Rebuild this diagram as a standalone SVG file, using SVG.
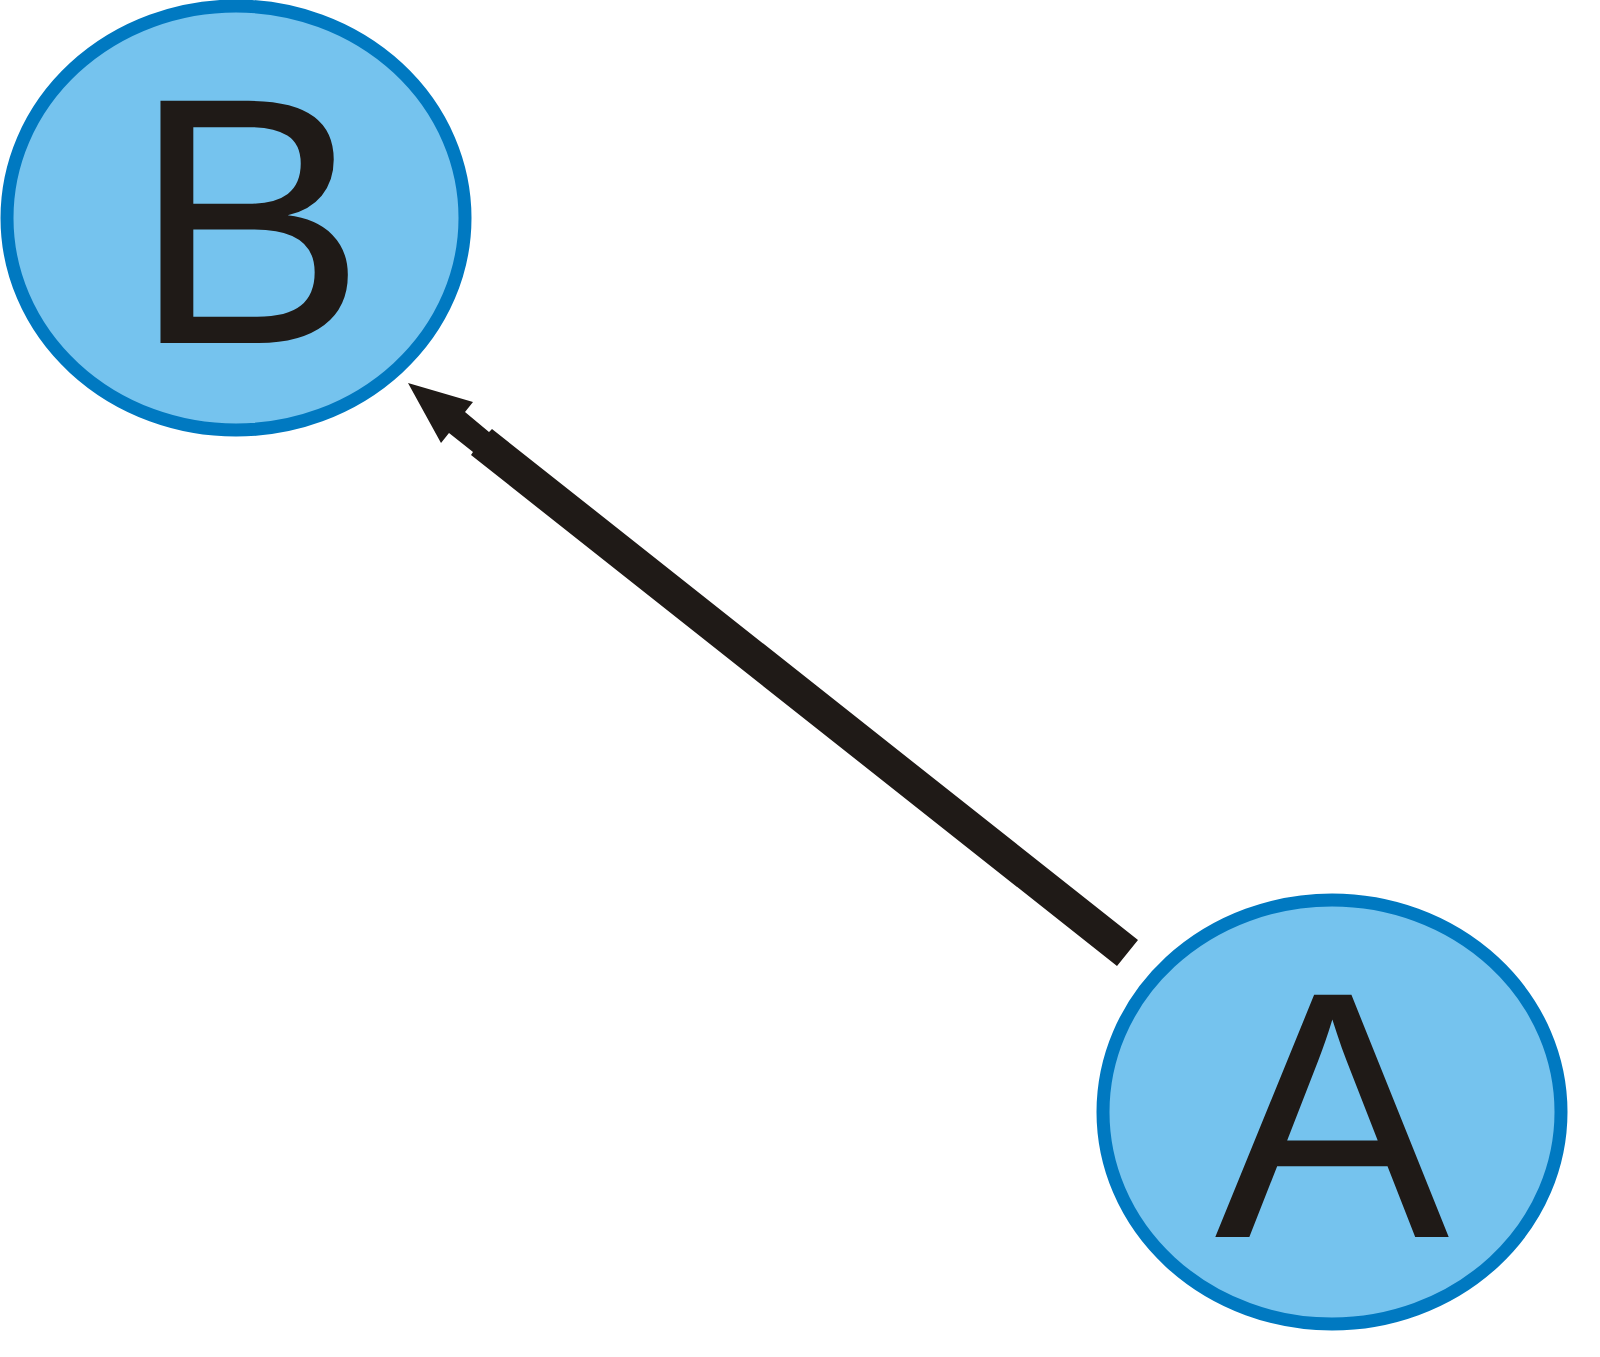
<svg xmlns="http://www.w3.org/2000/svg" width="1600" height="1357" viewBox="0 0 1600 1357">
<style>
.n{fill:#75C3EE;stroke:#0079C1;stroke-width:13}
.t{font-family:"Liberation Sans",Arial,sans-serif;font-size:352px;fill:#1F1A17;text-anchor:middle}
</style>
<rect width="1600" height="1357" fill="#fff"/>
<g id="B"><ellipse class="n" cx="236" cy="218" rx="229" ry="212"/><text class="t" x="249" y="343">B</text></g>
<g id="A"><ellipse class="n" cx="1332" cy="1112" rx="229" ry="212"/><text class="t" x="1332" y="1237">A</text></g>
<g id="connectors"><polygon fill="#1F1A17" points="1138,940 492,429 489,432 465,412 473,402 408,383 441,443 449,433 473,452 471,455 1117,966"/></g>
</svg>
